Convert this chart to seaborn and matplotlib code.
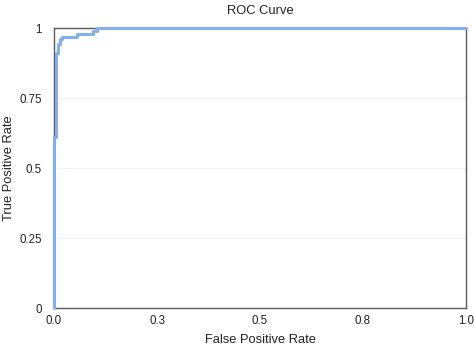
import matplotlib
matplotlib.use("Agg")
import matplotlib.pyplot as plt
import seaborn as sns
import pandas as pd

# ROC curve points (step shape)
fpr = [0.0, 0.0, 0.005, 0.005, 0.01, 0.01, 0.015, 0.015, 0.02, 0.02,
       0.055, 0.055, 0.095, 0.095, 0.105, 0.105, 1.0]
tpr = [0.0, 0.61, 0.61, 0.91, 0.91, 0.945, 0.945, 0.96, 0.96, 0.97,
       0.97, 0.98, 0.98, 0.99, 0.99, 1.0, 1.0]
x_ticks = [0.0, 0.25, 0.5, 0.75, 1.0]
x_tick_labels = ["0.0", "0.3", "0.5", "0.8", "1.0"]
y_ticks = [0, 0.25, 0.5, 0.75, 1]
y_tick_labels = ["0", "0.25", "0.5", "0.75", "1"]

sns.set_theme(style="white")
plt.rcParams["font.family"] = ["Liberation Sans", "DejaVu Sans"]

df = pd.DataFrame({"fpr": fpr, "tpr": tpr})

fig = plt.figure(figsize=(4.74, 3.47), dpi=100)
ax = fig.add_axes([0.114, 0.112, 0.869, 0.807])

ax.set_xlim(0, 1)
ax.set_ylim(0, 1)
for y in y_ticks[1:-1]:
    ax.axhline(y, color="#f4f4f4", lw=0.8, zorder=0)

sns.lineplot(data=df, x="fpr", y="tpr", sort=False, estimator=None,
             color="#82b0ee", linewidth=2.2, ax=ax, zorder=3, clip_on=False)

ax.set_xticks(x_ticks)
ax.set_xticklabels(x_tick_labels)
ax.set_yticks(y_ticks)
ax.set_yticklabels(y_tick_labels)
ax.tick_params(axis="both", length=0, labelsize=8.3, colors="#222222")
ax.tick_params(axis="y", pad=9)
ax.tick_params(axis="x", pad=5)

for s in ax.spines.values():
    s.set_color("#5a5a5a")
    s.set_linewidth(1.0)

ax.set_xlabel("False Positive Rate", fontsize=9.3, color="#222222", labelpad=5)
ax.set_ylabel("True Positive Rate", fontsize=9.3, color="#222222", labelpad=3)
ax.set_title("ROC Curve", fontsize=9.3, color="#222222", pad=10)

fig.savefig("out.png", dpi=100, facecolor="white")
